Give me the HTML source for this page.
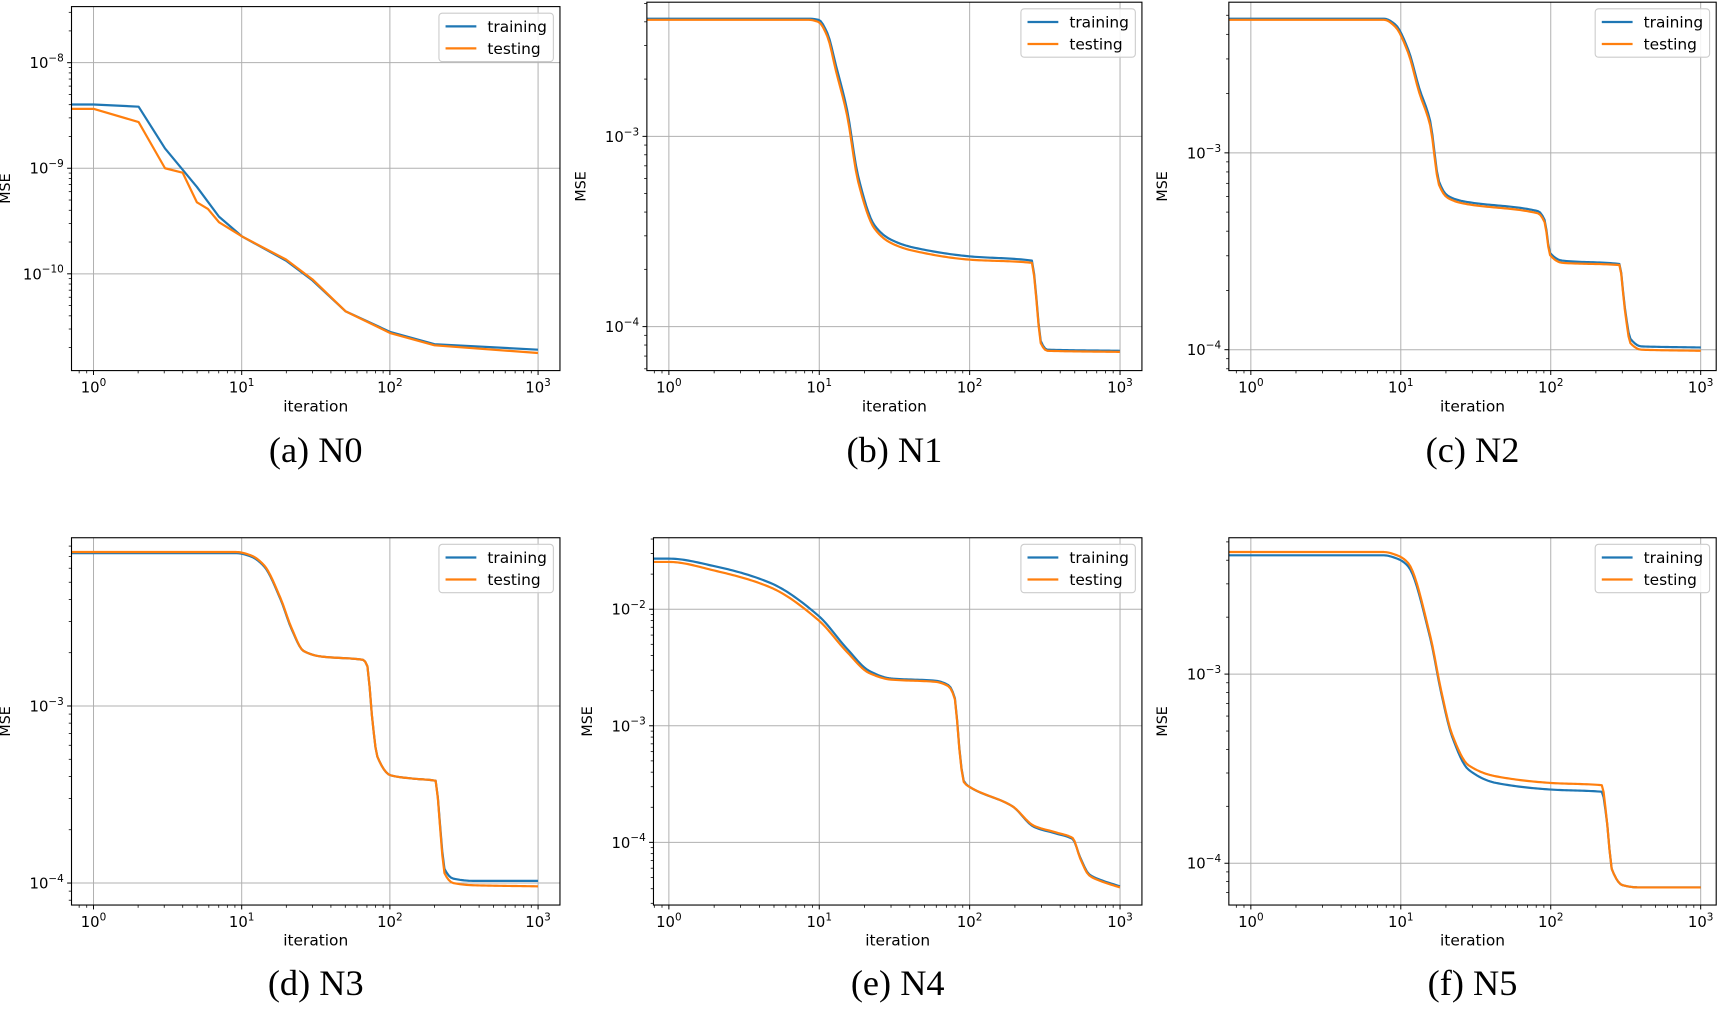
<!DOCTYPE html>
<html><head><meta charset="utf-8"><style>
html,body{margin:0;padding:0;background:#fff;}
svg{display:block;}
</style></head><body>
<svg id="s" width="1725" height="1015" viewBox="0 0 1568 923" preserveAspectRatio="none" xmlns="http://www.w3.org/2000/svg"></svg>
<script>
const S=document.getElementById('s');
let out='';
const P=[
 {L:65,R:509,T:6,B:337,x0:85,dx:134.7,yt:[[57,-8],[153,-9],[249,-10]],cap:'(a) N0',cy:420,sm:false,
  tr:[[65,95],[85,95],[126,97],[150,135],[179,170],[199,197],[220,215],[260,237],[284,255],[314,283],[355,302],[395,313],[489,318]],
  te:[[65,99],[85,99],[126,111],[150,153],[166,157],[179,184],[189,190],[199,202],[220,215],[260,236],[284,254],[314,283],[355,303],[395,314],[489,321]]},
 {L:588,R:1038,T:2,B:337,x0:608,dx:136.7,yt:[[124,-3],[297,-4]],cap:'(b) N1',cy:420,sm:true,
  tr:[[588,17],[735,17],[744,18],[752,30],[760,60],[770,100],[780,160],[795,205],[810,218],[830,225],[880,233],[938,237],[942,270],[946,310],[952,318],[1018,319]],
  te:[[588,18],[735,18],[744,20],[752,33],[760,65],[770,105],[780,165],[795,208],[810,221],[830,228],[880,236],[938,239],[942,272],[946,312],[952,319],[1018,320]]},
 {L:1117,R:1560,T:2,B:337,x0:1137,dx:136.3,yt:[[139,-3],[318,-4]],cap:'(c) N2',cy:420,sm:true,
  tr:[[1117,17],[1258,17],[1268,22],[1280,45],[1290,80],[1300,110],[1308,165],[1316,178],[1330,183],[1398,192],[1404,200],[1409,230],[1420,237],[1472,240],[1477,280],[1482,308],[1492,315],[1546,316]],
  te:[[1117,18],[1258,18],[1268,24],[1280,48],[1290,84],[1300,114],[1308,168],[1316,180],[1330,185],[1398,194],[1404,202],[1409,232],[1420,239],[1472,241],[1477,282],[1482,312],[1492,318],[1546,319]]},
 {L:65,R:509,T:489,B:823,x0:85,dx:134.7,yt:[[642,-3],[803,-4]],cap:'(d) N3',cy:905,sm:true,
  tr:[[65,503],[215,503],[228,506],[240,515],[255,545],[265,572],[276,592],[292,597],[330,600],[334,606],[338,650],[343,688],[355,705],[375,708],[396,710],[400,750],[404,790],[412,799],[430,801],[489,801]],
  te:[[65,502],[215,502],[228,505],[240,514],[255,544],[265,571],[276,592],[292,597],[330,600],[334,606],[338,650],[343,688],[355,705],[375,708],[396,710],[400,752],[404,794],[412,803],[430,805],[489,806]]},
 {L:594,R:1038,T:489,B:823,x0:608,dx:136.7,yt:[[554,-2],[660,-3],[766,-4]],cap:'(e) N4',cy:905,sm:true,
  tr:[[594,508],[608,508],[650,515],[700,530],[744,560],[770,590],[790,610],[810,617],[850,619],[862,623],[868,635],[872,680],[876,710],[882,716],[920,733],[940,752],[960,758],[975,763],[982,780],[990,795],[1000,800],[1018,806]],
  te:[[594,511],[608,511],[650,519],[700,534],[744,564],[770,593],[790,612],[810,618],[850,620],[862,624],[868,636],[872,681],[876,711],[882,716],[920,733],[940,751],[960,757],[975,762],[982,781],[990,796],[1000,801],[1018,807]]},
 {L:1117,R:1560,T:489,B:823,x0:1137,dx:136.3,yt:[[613,-3],[785,-4]],cap:'(f) N5',cy:905,sm:true,
  tr:[[1117,505],[1258,505],[1270,508],[1280,515],[1300,580],[1310,630],[1320,670],[1335,700],[1360,712],[1410,718],[1456,720],[1461,750],[1465,790],[1475,805],[1490,807],[1546,807]],
  te:[[1117,502],[1258,502],[1270,505],[1280,512],[1300,578],[1310,628],[1320,668],[1335,696],[1360,706],[1410,712],[1456,714],[1461,750],[1465,790],[1475,805],[1490,807],[1546,807]]}
];
function mono(pts){
  const n=pts.length,xs=pts.map(p=>p[0]),ys=pts.map(p=>p[1]);
  const d=[],m=[];
  for(let i=0;i<n-1;i++)d.push((ys[i+1]-ys[i])/(xs[i+1]-xs[i]));
  m[0]=d[0];m[n-1]=d[n-2];
  for(let i=1;i<n-1;i++){ if(d[i-1]*d[i]<=0)m[i]=0; else m[i]=2/(1/d[i-1]+1/d[i]); }
  const r=[];
  for(let i=0;i<n-1;i++){const h=xs[i+1]-xs[i];const steps=Math.max(2,Math.ceil(h/2));
    for(let s=0;s<steps;s++){const t=s/steps,t2=t*t,t3=t2*t;
      const y=(2*t3-3*t2+1)*ys[i]+(t3-2*t2+t)*h*m[i]+(-2*t3+3*t2)*ys[i+1]+(t3-t2)*h*m[i+1];
      r.push([(xs[i]+t*h).toFixed(2),y.toFixed(2)]);}}
  r.push([xs[n-1],ys[n-1]]);return r;
}
P.forEach(p=>{
  const cw=p.R-p.L;
  for(let k=0;k<4;k++){const x=p.x0+k*p.dx;out+=`<line x1="${x}" y1="${p.T}" x2="${x}" y2="${p.B}" stroke="#b0b0b0" stroke-width="0.9"/>`;}
  const dy=p.yt.length>1?(p.yt[1][0]-p.yt[0][0]):100;
  p.yt.forEach(t=>{out+=`<line x1="${p.L}" y1="${t[0]}" x2="${p.R}" y2="${t[0]}" stroke="#b0b0b0" stroke-width="0.9"/>`;});
  for(let d=-3;d<=3;d++){const base=p.yt[0][0]+d*dy;for(let m=2;m<10;m++){const y=base-Math.log10(m)*dy; if(y>p.T&&y<p.B) out+=`<line x1="${p.L-2.5}" y1="${y}" x2="${p.L}" y2="${y}" stroke="#000" stroke-width="0.7"/>`;}}
  for(let d=-1;d<4;d++){const base=p.x0+d*p.dx;for(let m=2;m<10;m++){const x=base+Math.log10(m)*p.dx;if(x>p.L&&x<p.R) out+=`<line x1="${x}" y1="${p.B}" x2="${x}" y2="${p.B+2.5}" stroke="#000" stroke-width="0.7"/>`;}}
  for(let k=0;k<4;k++){const x=p.x0+k*p.dx;out+=`<line x1="${x}" y1="${p.B}" x2="${x}" y2="${p.B+4}" stroke="#000" stroke-width="0.9"/>`;
    out+=`<text x="${x}" y="${p.B+20}" font-size="13.5" text-anchor="middle">10<tspan font-size="9.5" dy="-6">${k}</tspan></text>`;}
  p.yt.forEach(t=>{out+=`<line x1="${p.L-4}" y1="${t[0]}" x2="${p.L}" y2="${t[0]}" stroke="#000" stroke-width="0.9"/>`;
    out+=`<text x="${p.L-7}" y="${t[0]+5}" font-size="13.5" text-anchor="end">10<tspan font-size="9.5" dy="-6">\u2212${-t[1]}</tspan></text>`;});
  const pl=a=>(p.sm?mono(a):a).map(q=>q.join(',')).join(' ');
  out+=`<polyline points="${pl(p.tr)}" fill="none" stroke="#1f77b4" stroke-width="2" stroke-linejoin="round"/>`;
  out+=`<polyline points="${pl(p.te)}" fill="none" stroke="#ff7f0e" stroke-width="2" stroke-linejoin="round"/>`;
  out+=`<rect x="${p.L}" y="${p.T}" width="${cw}" height="${p.B-p.T}" fill="none" stroke="#000" stroke-width="1"/>`;
  const lx=p.R-110, ly=p.T+6;
  out+=`<rect x="${lx}" y="${ly}" width="104" height="44" rx="3" fill="#fff" fill-opacity="0.85" stroke="#ccc" stroke-width="1"/>`;
  out+=`<line x1="${lx+6}" y1="${ly+12}" x2="${lx+34}" y2="${ly+12}" stroke="#1f77b4" stroke-width="2"/>`;
  out+=`<line x1="${lx+6}" y1="${ly+32}" x2="${lx+34}" y2="${ly+32}" stroke="#ff7f0e" stroke-width="2"/>`;
  out+=`<text x="${lx+44}" y="${ly+17}" font-size="14">training</text>`;
  out+=`<text x="${lx+44}" y="${ly+37}" font-size="14">testing</text>`;
  out+=`<text x="${(p.L+p.R)/2}" y="${p.B+37}" font-size="14" text-anchor="middle">iteration</text>`;
  const my=(p.T+p.B)/2, mx=p.L-56;
  out+=`<text x="${mx}" y="${my}" font-size="13" text-anchor="middle" transform="rotate(-90 ${mx} ${my})">MSE</text>`;
  out+=`<text x="${(p.L+p.R)/2}" y="${p.cy}" font-size="33" text-anchor="middle" font-family="Liberation Serif, serif">${p.cap}</text>`;
});
S.innerHTML='<g font-family="DejaVu Sans, Liberation Sans, sans-serif" fill="#000">'+out+'</g>';
</script>
</body></html>
